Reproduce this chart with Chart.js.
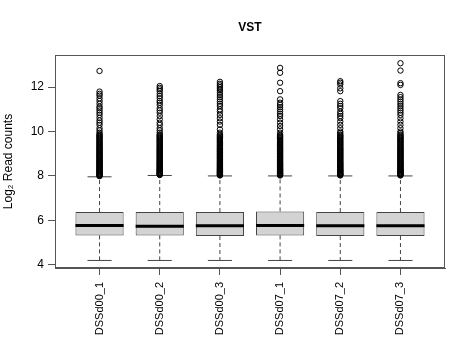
<!DOCTYPE html>
<html>
<head>
<meta charset="utf-8">
<script src="https://cdn.jsdelivr.net/npm/chart.js@4"></script>
<style>
  html, body { margin: 0; padding: 0; background: #fff; }
  #wrap { width: 474px; height: 338px; }
</style>
</head>
<body>
<div id="wrap"><canvas id="c"></canvas></div>
<script>
// samples and box statistics
const samples = ["DSSd00_1", "DSSd00_2", "DSSd00_3", "DSSd07_1", "DSSd07_2", "DSSd07_3"];
const lowerWhisker = [4.19, 4.19, 4.19, 4.19, 4.19, 4.19];
const q1 = [5.32, 5.32, 5.29, 5.32, 5.29, 5.29];
const median = [5.77, 5.73, 5.75, 5.77, 5.75, 5.75];
const q3 = [6.37, 6.37, 6.37, 6.40, 6.37, 6.37];
const upperWhisker = [7.96, 8.02, 8.00, 8.00, 8.00, 8.00];
const yTicks = [4, 6, 8, 10, 12];

// outliers (dense band 8-10 plus the sparser points above)
const out1 = [7.99, 8.01, 8.03, 8.05, 8.07, 8.1, 8.12, 8.15, 8.17, 8.2, 8.22, 8.25, 8.27, 8.3, 8.33, 8.36,
  8.39, 8.42, 8.45, 8.48, 8.51, 8.54, 8.57, 8.6, 8.63, 8.66, 8.69, 8.72, 8.76, 8.8, 8.83, 8.87,
  8.9, 8.94, 8.97, 9.01, 9.04, 9.08, 9.11, 9.15, 9.18, 9.22, 9.25, 9.29, 9.32, 9.36, 9.4, 9.44,
  9.48, 9.52, 9.56, 9.6, 9.64, 9.68, 9.72, 9.76, 9.8, 9.84, 9.88,
  9.95, 10.05, 10.15, 10.3, 10.4, 10.5, 10.62, 10.75, 10.85, 10.95, 11.05, 11.12, 11.25, 11.38,
  11.5, 11.62, 11.7, 11.8, 12.73];
const out2 = [8.04, 8.06, 8.08, 8.1, 8.12, 8.14, 8.16, 8.19, 8.21, 8.24, 8.26, 8.29, 8.31, 8.34, 8.37,
  8.4, 8.43, 8.46, 8.49, 8.52, 8.55, 8.58, 8.61, 8.64, 8.68, 8.71, 8.75, 8.78, 8.82, 8.85, 8.89,
  8.92, 8.96, 8.99, 9.03, 9.06, 9.1, 9.13, 9.17, 9.2, 9.24, 9.27, 9.31, 9.35, 9.39, 9.43, 9.47,
  9.51, 9.55, 9.59, 9.63, 9.67, 9.71, 9.75, 9.79, 9.83, 9.87,
  9.95, 10.05, 10.15, 10.3, 10.4, 10.55, 10.7, 10.85, 10.95, 11.05, 11.2, 11.3, 11.38, 11.5,
  11.6, 11.7, 11.82, 11.9, 11.97, 12.05];
const out3 = [8.02, 8.04, 8.06, 8.08, 8.1, 8.13, 8.15, 8.18, 8.2, 8.23, 8.25, 8.28, 8.3, 8.33, 8.36,
  8.39, 8.42, 8.45, 8.48, 8.51, 8.54, 8.57, 8.6, 8.63, 8.67, 8.7, 8.74, 8.77, 8.81, 8.84, 8.88,
  8.91, 8.95, 8.98, 9.02, 9.05, 9.09, 9.12, 9.16, 9.19, 9.23, 9.26, 9.3, 9.34, 9.38, 9.42, 9.46,
  9.5, 9.54, 9.58, 9.62, 9.66, 9.7, 9.74, 9.78, 9.82, 9.86,
  9.95, 10.1, 10.3, 10.45, 10.6, 10.75, 10.9, 11.0, 11.15, 11.25, 11.35, 11.45, 11.55, 11.65,
  11.75, 11.85, 11.92, 12.0, 12.08, 12.15, 12.24];
const out4 = [8.02, 8.04, 8.06, 8.08, 8.1, 8.12, 8.14, 8.17, 8.19, 8.22, 8.24, 8.27, 8.29, 8.32, 8.35,
  8.38, 8.41, 8.44, 8.47, 8.5, 8.53, 8.56, 8.59, 8.62, 8.66, 8.69, 8.73, 8.76, 8.8, 8.83, 8.87,
  8.9, 8.94, 8.97, 9.01, 9.04, 9.08, 9.11, 9.15, 9.18, 9.22, 9.25, 9.29, 9.33, 9.37, 9.41, 9.45,
  9.49, 9.53, 9.57, 9.61, 9.65, 9.69, 9.73, 9.77, 9.81, 9.85,
  9.95, 10.1, 10.25, 10.4, 10.55, 10.7, 10.8, 10.9, 11.0, 11.1, 11.2, 11.3, 11.45,
  11.82, 12.2, 12.65, 12.87];
const out5 = [8.02, 8.04, 8.06, 8.08, 8.1, 8.13, 8.15, 8.18, 8.2, 8.23, 8.25, 8.28, 8.3, 8.33, 8.36,
  8.39, 8.42, 8.45, 8.48, 8.51, 8.54, 8.57, 8.6, 8.63, 8.67, 8.7, 8.74, 8.77, 8.81, 8.84, 8.88,
  8.91, 8.95, 8.98, 9.02, 9.05, 9.09, 9.12, 9.16, 9.19, 9.23, 9.26, 9.3, 9.34, 9.38, 9.42, 9.46,
  9.5, 9.54, 9.58, 9.62, 9.66, 9.7, 9.74, 9.78, 9.82, 9.86,
  9.93, 10.0, 10.15, 10.3, 10.45, 10.6, 10.7, 10.8, 10.9, 11.05, 11.15, 11.25, 11.37,
  11.82, 11.95, 12.12, 12.2, 12.27];
const out6 = [8.02, 8.04, 8.06, 8.08, 8.1, 8.13, 8.15, 8.18, 8.2, 8.23, 8.25, 8.28, 8.3, 8.33, 8.36,
  8.39, 8.42, 8.45, 8.48, 8.51, 8.54, 8.57, 8.6, 8.63, 8.67, 8.7, 8.74, 8.77, 8.81, 8.84, 8.88,
  8.91, 8.95, 8.98, 9.02, 9.05, 9.09, 9.12, 9.16, 9.19, 9.23, 9.26, 9.3, 9.34, 9.38, 9.42, 9.46,
  9.5, 9.54, 9.58, 9.62, 9.66, 9.7, 9.74, 9.78, 9.82, 9.86,
  9.93, 10.0, 10.15, 10.3, 10.45, 10.6, 10.75, 10.85, 10.95, 11.05, 11.15, 11.25, 11.35,
  11.45, 11.55, 11.65, 12.1, 12.18, 12.75, 13.08];
const outliers = [out1, out2, out3, out4, out5, out6];

const BOX_HALF = 0.4;
const CAP_HALF = 0.2;

const boxData = samples.map((s, i) => ({ x: i + 1, y: [q1[i], q3[i]] }));

const medianData = [];
const whiskerData = [];
const capData = [];
samples.forEach((s, i) => {
  const x = i + 1;
  medianData.push({ x: x - BOX_HALF, y: median[i] }, { x: x + BOX_HALF, y: median[i] }, { x: x, y: null });
  whiskerData.push({ x: x, y: q3[i] }, { x: x, y: upperWhisker[i] }, { x: x, y: null });
  whiskerData.push({ x: x, y: q1[i] }, { x: x, y: lowerWhisker[i] }, { x: x, y: null });
  capData.push({ x: x - CAP_HALF, y: upperWhisker[i] }, { x: x + CAP_HALF, y: upperWhisker[i] }, { x: x, y: null });
  capData.push({ x: x - CAP_HALF, y: lowerWhisker[i] }, { x: x + CAP_HALF, y: lowerWhisker[i] }, { x: x, y: null });
});

const outlierData = [];
outliers.forEach((arr, i) => arr.forEach(v => outlierData.push({ x: i + 1, y: v })));

const frame = {
  id: "frame",
  afterDatasetsDraw(chart) {
    const a = chart.chartArea;
    const ctx = chart.ctx;
    ctx.save();
    ctx.strokeStyle = "#555";
    ctx.lineWidth = 1;
    ctx.strokeRect(Math.round(a.left) + 0.5, Math.round(a.top) + 0.5,
      Math.round(a.right - a.left) - 1, Math.round(a.bottom - a.top) - 1);
    ctx.restore();
  }
};

Chart.defaults.font.family = "'Liberation Sans', Arial, Helvetica, sans-serif";
Chart.defaults.color = "#000";

new Chart(document.getElementById("c"), {
  data: {
    datasets: [
      {
        type: "line", data: medianData, borderColor: "#000", borderWidth: 3,
        pointRadius: 0, spanGaps: false, order: 0
      },
      {
        type: "scatter", data: outlierData, pointStyle: "circle", pointRadius: 2.7,
        borderColor: "#000", backgroundColor: "rgba(0,0,0,0)", borderWidth: 1, order: 1
      },
      {
        type: "line", data: capData, borderColor: "#444", borderWidth: 1,
        pointRadius: 0, spanGaps: false, order: 2
      },
      {
        type: "line", data: whiskerData, borderColor: "#444", borderWidth: 1, borderDash: [4, 3],
        pointRadius: 0, spanGaps: false, order: 3
      },
      {
        type: "bar", data: boxData, backgroundColor: "#d3d3d3", borderColor: "#444",
        borderWidth: 1, borderSkipped: false, categoryPercentage: 1, barPercentage: 0.8, order: 4
      }
    ]
  },
  options: {
    responsive: true,
    maintainAspectRatio: false,
    animation: false,
    layout: { padding: { left: 0, right: 29, top: 0, bottom: 0 } },
    plugins: {
      legend: { display: false },
      tooltip: { enabled: false },
      title: {
        display: true, text: "VST", fullSize: false,
        font: { size: 12, weight: "bold" }, color: "#000",
        padding: { top: 20, bottom: 20.6 }
      }
    },
    scales: {
      x: {
        type: "linear", min: 0.26, max: 6.74, offset: false,
        afterBuildTicks: s => { s.ticks = samples.map((n, i) => ({ value: i + 1 })); },
        afterFit: s => { s.height = 70; },
        ticks: {
          autoSkip: false, minRotation: 90, maxRotation: 90, padding: 7,
          font: { size: 11 }, color: "#000",
          callback: v => samples[v - 1]
        },
        grid: { display: true, offset: false, drawOnChartArea: false, drawTicks: true, tickLength: 7, color: "#555" },
        border: { display: true, color: "#555" }
      },
      y: {
        type: "linear", min: 3.85, max: 13.45,
        afterBuildTicks: s => { s.ticks = yTicks.map(v => ({ value: v })); },
        afterFit: s => { s.width = 55; },
        ticks: { padding: 4, font: { size: 12 }, color: "#000" },
        grid: { display: true, drawOnChartArea: false, drawTicks: true, tickLength: 7, color: "#555" },
        border: { display: true, color: "#555" },
        title: {
          display: true, text: "Log\u2082 Read counts", font: { size: 12 }, color: "#000",
          padding: { top: 1, bottom: 0 }
        }
      }
    }
  },
  plugins: [frame]
});
</script>
</body>
</html>
